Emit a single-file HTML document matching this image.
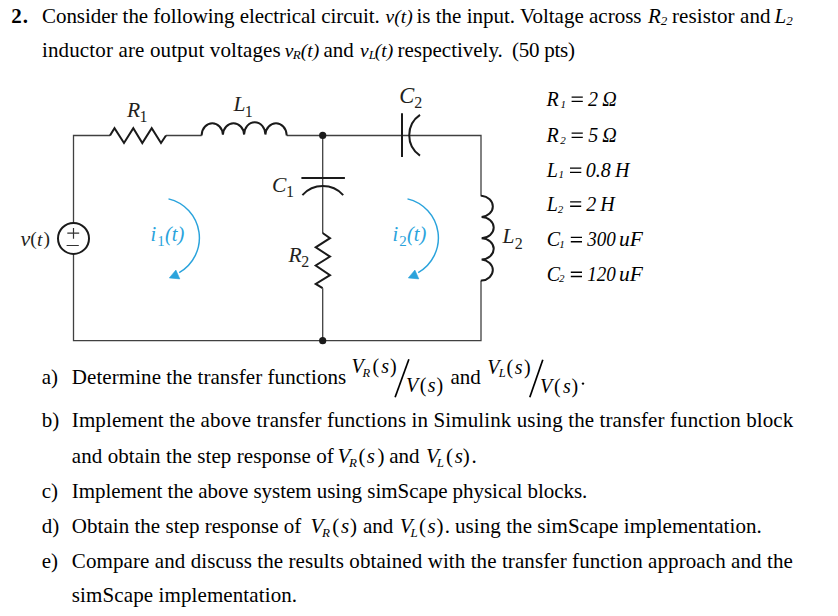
<!DOCTYPE html>
<html><head><meta charset="utf-8">
<style>
html,body{margin:0;padding:0;background:#fff;width:838px;height:616px;overflow:hidden}
svg{position:absolute;left:0;top:0}
text{font-family:"Liberation Serif",serif;fill:#000}
.t{font-size:21px}
.i{font-style:italic}
.b{font-weight:bold}
.lab{font-style:italic;font-size:21.5px;fill:#231f20}
.sb{font-size:16px;fill:#231f20}
.bsb{font-size:15px;fill:#2aa3dc}
.p{font-style:italic;font-size:20px}
.ps{font-style:italic;font-size:11px}
.eq{stroke:#000;stroke-width:1.4;fill:none}
.m,.m2{font-style:italic;font-size:20px}
.m2{font-size:21px}
.ms,.ms2{font-style:italic;font-size:12.5px}
.ms2{font-size:13px}
.mp,.mp2{font-size:20px}
.mp2{font-size:21px}
.w{stroke:#404040;stroke-width:1.3;fill:none}
.k{stroke:#1a1a1a;stroke-width:2;fill:none}
.bl{stroke:#2aa3dc;stroke-width:1.45;fill:none}
.blt{fill:#2aa3dc;font-style:italic;font-size:20.5px}
</style></head>
<body>
<svg width="838" height="616" viewBox="0 0 838 616">
<!-- Heading lines -->
<text class="t b" x="11.2" y="22.9">2</text><text class="t b" x="22.7" y="22.9">.</text>
<text class="t" x="42" y="22.9" textLength="337.8" lengthAdjust="spacing">Consider the following electrical circuit.</text>
<text class="t i" style="font-size:19.5px" x="385.6" y="22.9">v(t)</text>
<text class="t" x="416.5" y="22.9" textLength="225" lengthAdjust="spacing">is the input. Voltage across</text>
<text class="t i" x="648" y="22.9">R<tspan font-size="13" dy="2">2</tspan></text>
<text class="t" x="672" y="22.9" textLength="98.5" lengthAdjust="spacing">resistor and</text>
<text class="t i" x="774.5" y="22.9">L<tspan font-size="13" dy="2">2</tspan></text>

<text class="t" x="42" y="56.7" textLength="238.7" lengthAdjust="spacing">inductor are output voltages</text>
<text class="t i" style="font-size:19.5px" x="284.7" y="56.7">v</text><text class="t i" style="font-size:13px" x="292.7" y="58.9">R</text><text class="t i" style="font-size:19.5px" x="300.8" y="56.7">(t)</text>
<text class="t" x="323.5" y="56.7">and</text>
<text class="t i" style="font-size:19.5px" x="360" y="56.7">v</text><text class="t i" style="font-size:13px" x="368.7" y="58.7">L</text><text class="t i" style="font-size:19.5px" x="374.8" y="56.7">(t)</text>
<text class="t" x="397.5" y="56.7">respectively.</text><text class="t" x="512" y="56.7" textLength="63" lengthAdjust="spacing">(50 pts)</text>

<!-- Circuit wires -->
<g class="w">
<path d="M73.5,238 V135.5 H110"/>
<path d="M166,135.5 H201.6"/>
<path d="M286.7,135.5 H402"/>
<path d="M402,135.5 H481 V195.7"/>
<path d="M481,280.7 V340.7 H73.5 V238"/>
<path d="M322.7,135.5 V233 M322.7,288.2 V340.7"/>
</g>
<!-- R1 -->
<path class="k" d="M110,135.5 L114.5,128.2 L124,143 L133.3,128.2 L142.3,143 L151.7,128.2 L161,143 L166,135.5"/>
<!-- L1 -->
<path class="k" d="M201.6,135.5 L201.7,134.6 A10.63,12.3 0 0 1 222.9,134.6 A10.63,12.3 0 0 1 244.1,134.6 A10.63,12.3 0 0 1 265.4,134.6 A10.63,12.3 0 0 1 286.6,134.6 L286.7,135.5"/>
<!-- node dots -->
<circle cx="322.7" cy="135.4" r="3.6" fill="#1a1a1a"/>
<circle cx="322.7" cy="340.7" r="3.6" fill="#1a1a1a"/>
<!-- C2 -->
<path class="k" d="M402,113.3 V156.9"/>
<path class="k" d="M420,114.8 A24.7,24.7 0 0 0 420,155.6"/>
<!-- C1 -->
<path class="k" d="M301.4,177.9 H344.9"/>
<path class="k" d="M302.4,195.1 A27.6,27.6 0 0 1 343.2,195.1"/>
<!-- R2 -->
<path class="k" d="M322.6,233 L330,238.2 L315.7,247.3 L330,256.6 L315.7,265.5 L330,275.2 L315.7,283.9 L322.6,288.2"/>
<!-- L2 -->
<path class="k" d="M480.8,195.7 L481.6,195.8 A12.5,10.63 0 0 1 481.6,216.95 A12.5,10.63 0 0 1 481.6,238.2 A12.5,10.63 0 0 1 481.6,259.45 A12.5,10.63 0 0 1 481.6,280.6 L480.8,280.7"/>
<!-- source -->
<circle cx="73.5" cy="238.4" r="15.5" fill="#fff" stroke="#1a1a1a" stroke-width="2"/>
<path d="M67.3,233.2 H79.2 M73.5,228 V238.7 M66.6,245.5 H78.8" stroke="#333" stroke-width="1.2"/>
<!-- current arrows -->
<path class="bl" d="M168.5,198.9 A40,40 0 0 1 179.2,272.6"/>
<path d="M169.3,277.9 L175.9,270.1 L179.8,278.9 Z" fill="#2aa3dc" stroke="#2aa3dc" stroke-width="0.6" stroke-linejoin="round"/>
<path class="bl" d="M407.5,198.9 A40,40 0 0 1 418.2,272.6"/>
<path d="M408.3,277.9 L414.9,270.1 L418.8,278.9 Z" fill="#2aa3dc" stroke="#2aa3dc" stroke-width="0.6" stroke-linejoin="round"/>

<!-- circuit labels -->
<text class="lab" x="127" y="116.5">R</text><text class="sb" x="139.5" y="121.8">1</text>
<text class="lab" x="233.5" y="111.3">L</text><text class="sb" x="244.8" y="116.8">1</text>
<text class="lab" style="font-size:22.5px" x="399.2" y="103">C</text><text class="sb" x="414.3" y="108.3">2</text>
<text class="lab" x="272" y="191.5">C</text><text class="sb" x="286" y="197.3">1</text>
<text class="lab" x="288.5" y="261.5">R</text><text class="sb" x="301.3" y="267">2</text>
<text class="lab" x="502.5" y="243.2">L</text><text class="sb" x="514.8" y="248.5">2</text>
<text class="lab" style="font-size:22px" x="20.6" y="245.6">v</text><text class="lab" style="font-size:19.5px;font-style:normal" x="30.2" y="244.6">(</text><text class="lab" style="font-size:19.5px" x="36.9" y="245.6">t</text><text class="lab" style="font-size:19.5px;font-style:normal" x="43.6" y="244.6">)</text>
<text class="blt" x="150.5" y="240.6">i</text><text class="bsb" x="157.2" y="246.3">1</text><text class="blt" x="165" y="240.6">(t)</text>
<text class="blt" x="392.5" y="240.6">i</text><text class="bsb" x="399.2" y="246.3">2</text><text class="blt" x="407" y="240.6">(t)</text>

<!-- parameters -->
<text class="p" x="546.4" y="105.7">R</text><text class="ps" x="560.6" y="107.6">1</text><path class="eq" d="M571.6,97.1 H582.8 M571.6,101.4 H582.8"/><text class="p" x="587.9" y="105.7">2</text><text class="p" x="602.3" y="105.7">Ω</text>
<text class="p" x="546.4" y="141.7">R</text><text class="ps" x="560.3" y="143.6">2</text><path class="eq" d="M571.6,133.1 H582.8 M571.6,137.4 H582.8"/><text class="p" x="588.3" y="141.7">5</text><text class="p" x="602.3" y="141.7">Ω</text>
<text class="p" x="546.8" y="176.7">L</text><text class="ps" x="558.6" y="178.0">1</text><path class="eq" d="M570.0,168.1 H581.3 M570.0,172.4 H581.3"/><text class="p" x="585.8" y="176.7">0.8</text><text class="p" x="615.0" y="176.7">H</text>
<text class="p" x="546.8" y="210.5">L</text><text class="ps" x="557.7" y="212.7">2</text><path class="eq" d="M570.1,201.9 H581.2 M570.1,206.2 H581.2"/><text class="p" x="586.3" y="210.5">2</text><text class="p" x="600.3" y="210.5">H</text>
<text class="p" x="546.8" y="246.0">C</text><text class="ps" x="559.3" y="247.6">1</text><path class="eq" d="M570.8,237.4 H582.0 M570.8,241.7 H582.0"/><text class="p" x="587.3" y="246.0" textLength="28.6" lengthAdjust="spacingAndGlyphs">300</text><text class="p" style="font-size:21.5px" x="619" y="246.0">uF</text>
<text class="p" x="546.8" y="280.8">C</text><text class="ps" x="559.0" y="282.1">2</text><path class="eq" d="M570.8,272.2 H582.0 M570.8,276.5 H582.0"/><text class="p" x="587.2" y="280.8" textLength="28.6" lengthAdjust="spacingAndGlyphs">120</text><text class="p" style="font-size:21.5px" x="619" y="280.8">uF</text>

<!-- list -->
<text class="t" x="41.8" y="383.8">a)</text>
<text class="t" x="71.8" y="383.8" textLength="274.4" lengthAdjust="spacing">Determine the transfer functions</text>
<text class="m" x="351.4" y="373">V</text><text class="ms" x="362.4" y="376.9">R</text><text class="mp" x="372.6" y="373.3">(</text><text class="m" x="381.2" y="373">s</text><text class="mp" x="389.9" y="373.3">)</text>
<path d="M408.9,359.2 L395.1,397.3" stroke="#000" stroke-width="1.7"/>
<text class="m" x="405.9" y="392">V</text><text class="mp" x="419.8" y="392.4">(</text><text class="m" x="427.8" y="392">s</text><text class="mp" x="436.5" y="392.4">)</text>
<text class="t" x="450.4" y="384">and</text>
<text class="m" x="487.2" y="373.5">V</text><text class="ms" x="498.7" y="377.1">L</text><text class="mp" x="506.4" y="373.8">(</text><text class="m" x="514.8" y="373.5">s</text><text class="mp" x="524" y="373.8">)</text>
<path d="M542.8,359.8 L529.8,397.3" stroke="#000" stroke-width="1.7"/>
<text class="m" x="539.9" y="392.5">V</text><text class="mp" x="554" y="392.9">(</text><text class="m" x="563" y="392.5">s</text><text class="mp" x="571.6" y="392.9">)</text>
<circle cx="583" cy="383.6" r="1.2" fill="#000"/>

<text class="t" x="41.8" y="426.8">b)</text>
<text class="t" x="71.8" y="426.8" textLength="721.5" lengthAdjust="spacing">Implement the above transfer functions in Simulink using the transfer function block</text>
<text class="t" x="71.8" y="463" textLength="262" lengthAdjust="spacing">and obtain the step response of</text>
<text class="m2" x="337.5" y="463.2">V</text><text class="ms2" x="348.9" y="466.5">R</text><text class="mp2" x="358.6" y="463">(</text><text class="m2" x="366.8" y="463.2">s</text><text class="mp2" x="377.6" y="463">)</text>
<text class="t" x="389.3" y="463">and</text>
<text class="m2" x="426" y="463">V</text><text class="ms2" x="436.8" y="466.6">L</text><text class="mp2" x="445.9" y="463">(</text><text class="m2" x="454.75" y="463">s</text><text class="mp2" x="462.8" y="463">)</text><text class="t" x="471.6" y="463">.</text>

<text class="t" x="41.8" y="497.8">c)</text>
<text class="t" x="71.8" y="497.8" textLength="515.5" lengthAdjust="spacing">Implement the above system using simScape physical blocks.</text>
<text class="t" x="41.8" y="533">d)</text>
<text class="t" x="71.8" y="533" textLength="229.5" lengthAdjust="spacing">Obtain the step response of</text>
<text class="m2" x="310.6" y="533">V</text><text class="ms2" x="321.9" y="536.6">R</text><text class="mp2" x="332.3" y="533">(</text><text class="m2" x="341" y="533">s</text><text class="mp2" x="349.9" y="533">)</text>
<text class="t" x="362.9" y="533">and</text>
<text class="m2" x="399.7" y="533">V</text><text class="ms2" x="410.4" y="536.5">L</text><text class="mp2" x="418.9" y="533">(</text><text class="m2" x="427.5" y="533">s</text><text class="mp2" x="436.4" y="533">)</text><text class="t" x="444.7" y="533">.</text>
<text class="t" x="455" y="533" textLength="306.8" lengthAdjust="spacing">using the simScape implementation.</text>
<text class="t" x="41.8" y="567.6">e)</text>
<text class="t" x="71.8" y="567.6" textLength="721" lengthAdjust="spacing">Compare and discuss the results obtained with the transfer function approach and the</text>
<text class="t" x="71.8" y="601.6" textLength="225.3" lengthAdjust="spacing">simScape implementation.</text>
</svg>
</body></html>
